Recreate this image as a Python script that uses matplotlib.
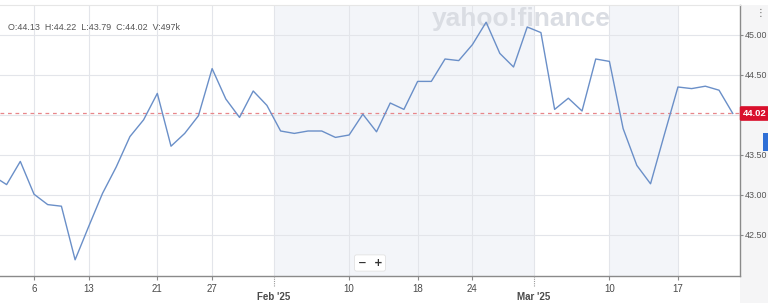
import matplotlib
matplotlib.use("Agg")
import matplotlib.pyplot as plt
import numpy as np

plt.rcParams["font.family"] = ["Liberation Sans", "DejaVu Sans"]

# ---- data ----
dates = ["2024-12-31", "2025-01-02", "2025-01-03",
         "2025-01-06", "2025-01-07", "2025-01-08", "2025-01-10",
         "2025-01-13", "2025-01-14", "2025-01-15", "2025-01-16", "2025-01-17",
         "2025-01-21", "2025-01-22", "2025-01-23", "2025-01-24",
         "2025-01-27", "2025-01-28", "2025-01-29", "2025-01-30", "2025-01-31",
         "2025-02-03", "2025-02-04", "2025-02-05", "2025-02-06", "2025-02-07",
         "2025-02-10", "2025-02-11", "2025-02-12", "2025-02-13", "2025-02-14",
         "2025-02-18", "2025-02-19", "2025-02-20", "2025-02-21",
         "2025-02-24", "2025-02-25", "2025-02-26", "2025-02-27", "2025-02-28",
         "2025-03-03", "2025-03-04", "2025-03-05", "2025-03-06", "2025-03-07",
         "2025-03-10", "2025-03-11", "2025-03-12", "2025-03-13", "2025-03-14",
         "2025-03-17", "2025-03-18", "2025-03-19", "2025-03-20", "2025-03-21"]
close = [43.24, 43.13, 43.42,
         43.01, 42.88, 42.86, 42.19,
         42.61, 43.02, 43.35, 43.73, 43.94,
         44.27, 43.61, 43.77, 43.99,
         44.58, 44.20, 43.97, 44.30, 44.12,
         43.80, 43.77, 43.80, 43.80, 43.72,
         43.75, 44.01, 43.79, 44.15, 44.07,
         44.42, 44.42, 44.70, 44.68,
         44.88, 45.16, 44.77, 44.60, 45.10,
         45.03, 44.07, 44.21, 44.05, 44.70,
         44.67, 43.83, 43.37, 43.14, 43.75,
         44.35, 44.33, 44.36, 44.31, 44.02]
last_price = 44.02
ohlc_text = "O:44.13  H:44.22  L:43.79  C:44.02  V:497k"
day_ticks = [("2025-01-06", "6"), ("2025-01-13", "13"), ("2025-01-21", "21"),
             ("2025-01-27", "27"), ("2025-02-10", "10"), ("2025-02-18", "18"),
             ("2025-02-24", "24"), ("2025-03-10", "10"), ("2025-03-17", "17")]
month_ticks = [("2025-02-03", "Feb '25"), ("2025-03-03", "Mar '25")]
y_grid = [42.50, 43.00, 43.50, 44.00, 44.50, 45.00]
y_ticks = [42.50, 43.00, 43.50, 44.50, 45.00]
shade_month = ("2025-02-03", "2025-03-03")
shade_week = ("2025-03-10", "2025-03-17")

pos = {d: i for i, d in enumerate(dates)}
x = np.arange(len(dates))

W, H = 768, 303
fig = plt.figure(figsize=(W / 100, H / 100), dpi=100)
fig.patch.set_facecolor("white")

# right margin strip (behind everything)
strip = plt.Rectangle((740 / W, 0), 28 / W, 1 - 5 / H, transform=fig.transFigure,
                      facecolor="#f5f5f6", edgecolor="none", zorder=-5)
fig.add_artist(strip)

ax = fig.add_axes([0, 1 - 276 / H, 740 / W, 271 / H])
ax.set_zorder(1)
ax.set_facecolor("white")

x0 = pos["2025-01-06"]
ax.set_xlim(x0 - 2.482, x0 + 51.53)
ax.set_ylim(41.9875, 45.375)

# shading
ax.axvspan(pos[shade_month[0]] - 0.5, pos[shade_month[1]] - 0.5, color="#f3f5f9", zorder=0, lw=0)
ax.axvspan(pos[shade_week[0]], pos[shade_week[1]], color="#f3f5f9", zorder=0, lw=0)

# grid
grid_c = "#e3e5ea"
for yv in y_grid:
    ax.axhline(yv, color=grid_c, lw=0.8, zorder=1)
for d, _ in day_ticks:
    ax.axvline(pos[d], color=grid_c, lw=0.8, zorder=1)
for d, _ in month_ticks:
    ax.axvline(pos[d] - 0.5, color=grid_c, lw=0.8, zorder=1)

# watermark
ax.text(521 / 740, 1 - 14 / 271, "yahoo!finance", transform=ax.transAxes, ha="center", va="center",
        fontsize=19, fontweight="bold", color="#dadde3", zorder=1.5)

# line
ax.plot(x, close, color="#6a8fc8", lw=1.0, zorder=3)
ax.axhline(last_price, color="#e8868a", lw=0.9, ls=(0, (3, 3)), zorder=2)

# axes styling
ax.spines["left"].set_visible(False)
ax.spines["top"].set_color("#e6e6e6")
ax.spines["top"].set_linewidth(0.8)
ax.spines["bottom"].set_color("#8a8a8a")
ax.spines["bottom"].set_linewidth(1.0)
ax.spines["right"].set_color("#8a8a8a")
ax.spines["right"].set_linewidth(1.0)

ax.yaxis.tick_right()
ax.set_yticks(y_ticks)
ax.set_yticklabels([f"{v:.2f}" for v in y_ticks], fontsize=6.4, color="#555555")
ax.tick_params(axis="y", direction="out", length=2.5, width=0.8, color="#8a8a8a", pad=1.2)

ax.set_xticks([pos[d] for d, _ in day_ticks])
ax.set_xticklabels([lbl for _, lbl in day_ticks], fontsize=7, color="#4a4a4a")
ax.tick_params(axis="x", direction="out", length=3, width=0.8, color="#8a8a8a", pad=2.5)

# month labels with dotted ticks below axis
for d, lbl in month_ticks:
    xm = pos[d] - 0.5
    ax.plot([xm, xm], [41.9875, 41.9875 - 11 / 80], color="#9a9a9a", lw=0.8, ls=(0, (1, 1)),
            clip_on=False, zorder=5)
    ax.text(xm, 41.9875 - 20.5 / 80, lbl, ha="center", va="center", fontsize=7,
            color="#4a4a4a", fontweight="bold", clip_on=False)

# last price label
fig.text(754.5 / W, 1 - 113.5 / H, f"{last_price:.2f}", ha="center", va="center", fontsize=6.8,
         color="white", fontweight="bold", zorder=10,
         bbox=dict(boxstyle="round,pad=0.3,rounding_size=0.15", fc="#d9102c", ec="none"))
# small blue tab
fig.add_artist(plt.Rectangle((763 / W, 1 - 151 / H), 5 / W, 18 / H, transform=fig.transFigure,
                             facecolor="#2f6fd6", edgecolor="none", zorder=10))
# menu dots
fig.text(760 / W, 1 - 13 / H, "\u22ee", ha="center", va="center", fontsize=7, color="#666666",
         family="DejaVu Sans", zorder=10)

# OHLC text
fig.text(8 / W, 1 - 27 / H, ohlc_text, ha="left", va="center", fontsize=6.4, color="#555555", zorder=10)

# zoom controls
fig.text(370 / W, 1 - 263 / H, "\u2212  +", ha="center", va="center", fontsize=7.5, color="#333333",
         fontweight="bold", family="DejaVu Sans", zorder=10,
         bbox=dict(boxstyle="round,pad=0.3,rounding_size=0.2", fc="white", ec="#e2e2e2", lw=0.6))

fig.savefig("out.png", dpi=100)
